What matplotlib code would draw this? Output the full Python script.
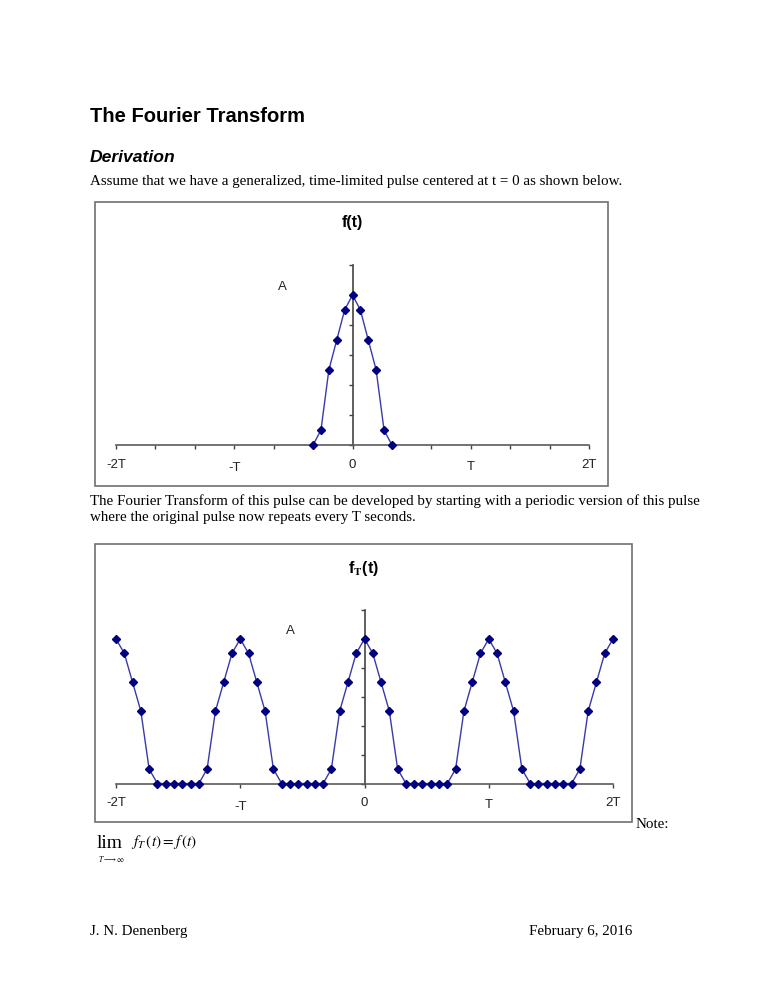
import numpy as np
import matplotlib.pyplot as plt
from matplotlib.patches import Rectangle

plt.rcParams['mathtext.fontset'] = 'stix'

# ---- data (time in units of T, amplitude with A = 5) ----
pulse_t = np.arange(-5, 6) / 15.0
pulse_vals = [0, 0.5, 2.5, 3.5, 4.5, 5, 4.5, 3.5, 2.5, 0.5, 0]

periodic_t = np.arange(-30, 31) / 15.0
periodic_vals = [5, 4.5, 3.5, 2.5, 0.5, 0, 0, 0, 0, 0, 0, 0.5, 2.5, 3.5, 4.5,
                 5, 4.5, 3.5, 2.5, 0.5, 0, 0, 0, 0, 0, 0, 0.5, 2.5, 3.5, 4.5,
                 5, 4.5, 3.5, 2.5, 0.5, 0, 0, 0, 0, 0, 0, 0.5, 2.5, 3.5, 4.5,
                 5, 4.5, 3.5, 2.5, 0.5, 0, 0, 0, 0, 0, 0, 0.5, 2.5, 3.5, 4.5,
                 5]

tick_pos = [-2, -1, 0, 1, 2]
tick_names = ['-2T', '-T', '0', 'T', '2T']
tick_drop = [20, 23, 20, 22, 20]   # label offset below axis, px

W, H = 768, 994
fig = plt.figure(figsize=(W / 100, H / 100), dpi=100)

def fx(x):
    return x / W

def fy(y):
    return 1 - y / H

SANS = 'Liberation Sans'
SERIF = 'Liberation Serif'
LINE_C = '#3a3aa8'
MARK_C = '#000080'
AX_C = '#444444'


def draw_chart(frame, x_left, x_right, y_zero, y_top, title, title_xy, a_xy, t, vals):
    # outer chart border
    fl, ft, fr, fb = frame
    fig.patches.append(Rectangle((fx(fl), fy(fb)), fx(fr) - fx(fl), fy(ft) - fy(fb),
                                 transform=fig.transFigure, fill=False,
                                 edgecolor='#707070', linewidth=1.2))
    ax = fig.add_axes([fx(x_left), fy(y_zero), fx(x_right) - fx(x_left), fy(y_top) - fy(y_zero)])
    ax.set_xlim(-2, 2)
    ax.set_ylim(0, 6)
    ax.patch.set_alpha(0)
    ax.plot(t, vals, color=LINE_C, linewidth=1.0, zorder=3, clip_on=False)
    ax.plot(t, vals, linestyle='none', marker='D', markersize=3.6,
            color=MARK_C, zorder=4, clip_on=False)
    for s in ['top', 'right']:
        ax.spines[s].set_visible(False)
    ax.spines['left'].set_position(('data', 0))
    ax.spines['left'].set_color(AX_C)
    ax.spines['bottom'].set_color('#5a5a5a')
    ax.spines['left'].set_linewidth(1.2)
    ax.spines['bottom'].set_linewidth(1.2)
    ax.set_xticks(np.arange(-6, 7) / 3.0)
    ax.set_yticks(np.arange(0, 7))
    ax.set_xticklabels([])
    ax.set_yticklabels([])
    ax.tick_params(axis='both', direction='out', length=3, width=1, color=AX_C)
    for p, name, d in zip(tick_pos, tick_names, tick_drop):
        ax.annotate(name, xy=(p, 0), xycoords='data', xytext=(0, -d * 0.72),
                    textcoords='offset points', ha='center', va='center',
                    fontsize=9.5, family=SANS, color='#222222', annotation_clip=False)
    fig.text(fx(title_xy[0]), fy(title_xy[1]), title, ha='center', va='center',
             fontsize=11.5, fontweight='bold', family=SANS)
    fig.text(fx(a_xy[0]), fy(a_xy[1]), 'A', ha='center', va='center',
             fontsize=9.5, family=SANS, color='#222222')
    return ax


# ---- page text ----
fig.text(fx(90), fy(117), 'The Fourier Transform', ha='left', va='center',
         fontsize=14.5, fontweight='bold', family=SANS)
fig.text(fx(90), fy(158), 'Derivation', ha='left', va='center',
         fontsize=12.6, fontweight='bold', fontstyle='italic', family=SANS)
fig.text(fx(90), fy(182), 'Assume that we have a generalized, time-limited pulse centered at t = 0 as shown below.',
         ha='left', va='center', fontsize=10.8, family=SERIF)

draw_chart((95, 202, 608, 486), 116, 589, 445, 265, 'f(t)', (352, 223), (282, 287),
           pulse_t, pulse_vals)

fig.text(fx(90), fy(501), 'The Fourier Transform of this pulse can be developed by starting with a periodic version of this pulse',
         ha='left', va='center', fontsize=10.8, family=SERIF)
fig.text(fx(90), fy(518), 'where the original pulse now repeats every T seconds.',
         ha='left', va='center', fontsize=10.8, family=SERIF)

draw_chart((95, 544, 632, 822), 116, 613, 783.5, 610, r'f$_\mathbf{T}$(t)', (363, 568), (290, 631),
           periodic_t, periodic_vals)

fig.text(fx(636), fy(825), 'Note:', ha='left', va='center', fontsize=10.8, family=SERIF)

# limit expression
fig.text(fx(110), fy(844), 'lim', ha='center', va='center', fontsize=14, family=SERIF)
fig.text(fx(111), fy(859), r'$T \longrightarrow \infty$', ha='center', va='center', fontsize=5.5)
fig.text(fx(131), fy(842), r'$f_T\,(t) = f\,(t)$', ha='left', va='center', fontsize=11)

# footer
fig.text(fx(90), fy(932), 'J. N. Denenberg', ha='left', va='center', fontsize=10.8, family=SERIF)
fig.text(fx(632), fy(932), 'February 6, 2016', ha='right', va='center', fontsize=10.8, family=SERIF)

fig.savefig('out.png', dpi=100)
